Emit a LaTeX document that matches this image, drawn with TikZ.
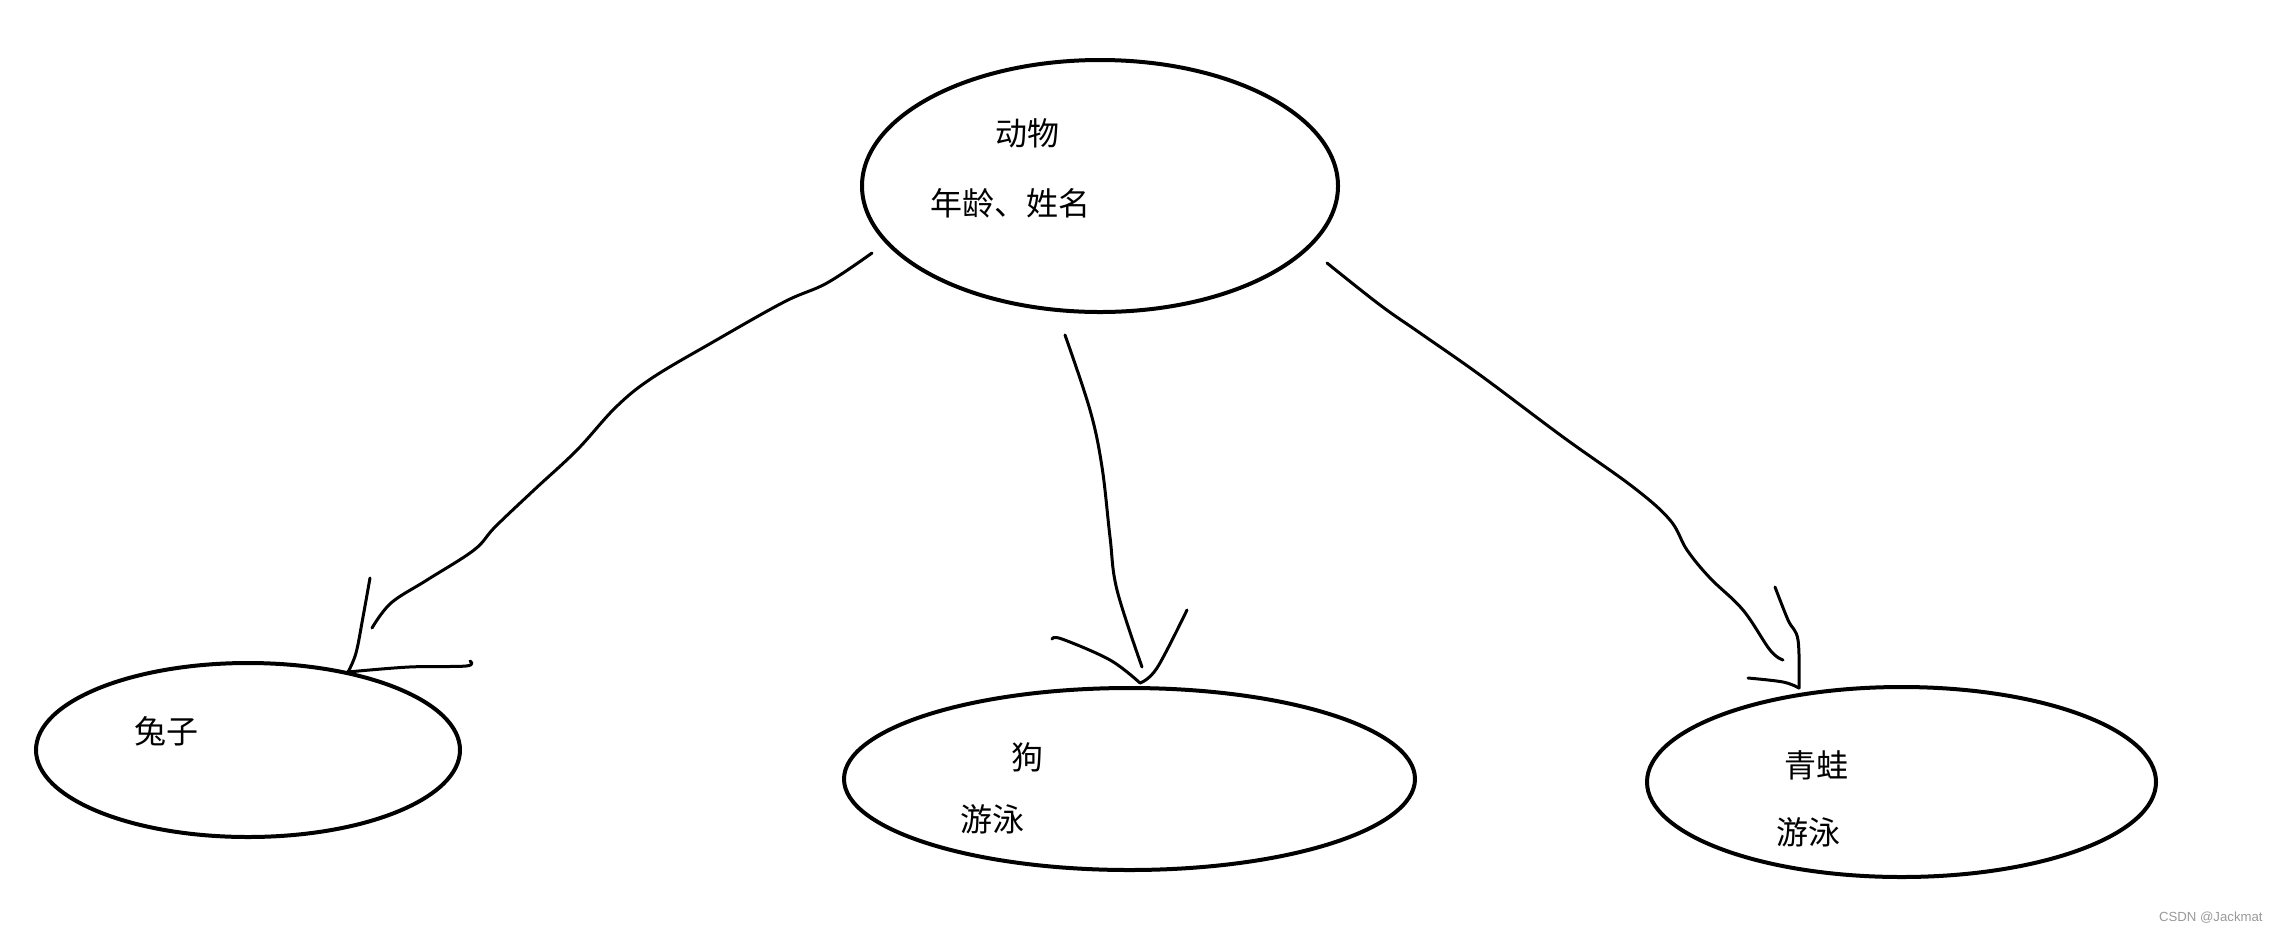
\documentclass[tikz,border=0pt]{standalone}
\usepackage{fontspec}
\newfontfamily\cjk{Noto Sans CJK SC}
\setsansfont{Liberation Sans}
\usetikzlibrary{shapes.geometric}
\begin{document}
\begin{tikzpicture}[x=0.5pt,y=-0.5pt,
  bubble/.style={draw,ellipse,line width=2pt,inner sep=0pt,outer sep=0pt},
  lbl/.style={font=\cjk\fontsize{16}{18}\selectfont,inner sep=0pt},
  stroke/.style={line width=1.5pt,line cap=round,line join=round}]
\useasboundingbox (0,0) rectangle (2280,933);
% ellipses
\node[bubble,minimum width=238pt,minimum height=126pt] (animal) at (1100,186) {};
\node[bubble,minimum width=212pt,minimum height=87pt] (rabbit) at (248,750) {};
\node[bubble,minimum width=285.5pt,minimum height=91pt] (dog) at (1129.5,779) {};
\node[bubble,minimum width=254.5pt,minimum height=95pt] (frog) at (1901.5,782) {};
% texts
\node[lbl] (t1) at (1027,133) {动物};
\node[lbl] (t2) at (1010,203) {年龄、姓名};
\node[lbl] (t3) at (166,731) {兔子};
\node[lbl] (t4) at (1027,757) {狗};
\node[lbl] (t5) at (992,819) {游泳};
\node[lbl] (t6) at (1816,765) {青蛙};
\node[lbl] (t7) at (1808,832) {游泳};
\node[font=\sffamily\fontsize{6.6}{8}\selectfont,text=black!40,inner sep=0pt,anchor=east] (wm) at (2263,918) {CSDN @Jackmat};
% connector end points
\coordinate (aL) at (872,253);
\coordinate (rT) at (372,628);
\coordinate (aM) at (1065,335);
\coordinate (dT) at (1142,667);
\coordinate (aR) at (1327,263);
\coordinate (fT) at (1783,660);
\coordinate (rH) at (348,672);
\coordinate (dH) at (1140,683);
\coordinate (fH) at (1799,688);
% shafts
\draw[stroke] plot[smooth,tension=0.6] coordinates {(aL) (827,283) (784,302) (713,342) (652,378) (616,407) (577,450) (534,490) (495,527) (474,550) (427,580) (391,603) (rT)};
\draw[stroke] plot[smooth,tension=0.6] coordinates {(aM) (1090,410) (1102,467) (1110,537) (1117,590) (dT)};
\draw[stroke] plot[smooth,tension=0.6] coordinates {(aR) (1380,305) (1420,333) (1480,375) (1563,437) (1633,487) (1670,520) (1687,550) (1710,578) (1743,610) (1770,650) (fT)};
% heads
\draw[stroke] plot[smooth,tension=0.6] coordinates {(370,578) (363,617) (356,653) (rH)};
\draw[stroke] plot[smooth,tension=0.6] coordinates {(rH) (409,667) (466,666) (470,661)};
\draw[stroke] plot[smooth,tension=0.6] coordinates {(1052,639) (1062,639) (1110,660) (dH)};
\draw[stroke] plot[smooth,tension=0.6] coordinates {(dH) (1157,668) (1187,610)};
\draw[stroke] plot[smooth,tension=0.6] coordinates {(1775,587) (1788,620) (1798,640) (fH)};
\draw[stroke] plot[smooth,tension=0.6] coordinates {(1748,678) (1783,682) (fH)};
\end{tikzpicture}
\end{document}
